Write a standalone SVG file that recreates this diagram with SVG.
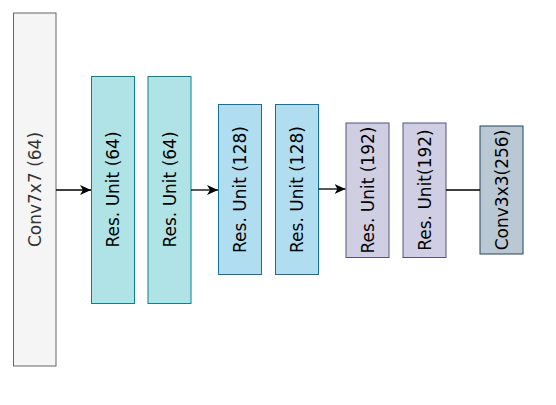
<svg xmlns="http://www.w3.org/2000/svg" width="556" height="405" viewBox="0 0 556 405">
<defs>
<style>
.t{font-family:"DejaVu Sans","Liberation Sans",sans-serif;font-size:17px;text-anchor:middle;dominant-baseline:central;fill:#000}
.c{stroke:#000;stroke-width:1.3;fill:none}
</style>
<marker id="ah" markerWidth="12" markerHeight="12" refX="11" refY="5" orient="auto" markerUnits="userSpaceOnUse">
<path d="M0,0 L11,5 L0,10 L3,5 Z" fill="#000"/>
</marker>
</defs>
<rect width="556" height="405" fill="#fff"/>
<g id="conv7">
<rect x="13.5" y="13" width="42.5" height="353" fill="#f5f5f5" stroke="#666"/>
<text class="t" style="fill:#333" transform="translate(35,189.5) rotate(-90)">Conv7x7 (64)</text>
</g>
<g id="res64a">
<rect x="91.5" y="76.5" width="43" height="227" fill="#b0e3e6" stroke="#0e8088"/>
<text class="t" transform="translate(113,189.5) rotate(-90)">Res. Unit (64)</text>
</g>
<g id="res64b">
<rect x="148" y="76.5" width="43" height="227" fill="#b0e3e6" stroke="#0e8088"/>
<text class="t" transform="translate(169.5,189.5) rotate(-90)">Res. Unit (64)</text>
</g>
<g id="res128a">
<rect x="218.5" y="104.5" width="43" height="170" fill="#b1ddf0" stroke="#10739e"/>
<text class="t" transform="translate(240,189.5) rotate(-90)">Res. Unit (128)</text>
</g>
<g id="res128b">
<rect x="275.5" y="104.5" width="43" height="170" fill="#b1ddf0" stroke="#10739e"/>
<text class="t" transform="translate(297,189.5) rotate(-90)">Res. Unit (128)</text>
</g>
<g id="res192a">
<rect x="346" y="123" width="43" height="134.5" fill="#d0cee2" stroke="#56517e"/>
<text class="t" transform="translate(367.5,190) rotate(-90)">Res. Unit (192)</text>
</g>
<g id="res192b">
<rect x="403" y="123" width="43" height="134.5" fill="#d0cee2" stroke="#56517e"/>
<text class="t" transform="translate(424.5,190) rotate(-90)">Res. Unit(192)</text>
</g>
<g id="conv3">
<rect x="480" y="126" width="43" height="128" fill="#bac8d3" stroke="#23445d"/>
<text class="t" transform="translate(501.5,190) rotate(-90)">Conv3x3(256)</text>
</g>
<g id="connectors">
<line class="c" x1="56" y1="190" x2="91" y2="190" marker-end="url(#ah)"/>
<line class="c" x1="191" y1="190" x2="218" y2="190" marker-end="url(#ah)"/>
<line class="c" x1="318.5" y1="189" x2="345.5" y2="189" marker-end="url(#ah)"/>
<line class="c" x1="446" y1="190" x2="480" y2="190"/>
</g>
</svg>
